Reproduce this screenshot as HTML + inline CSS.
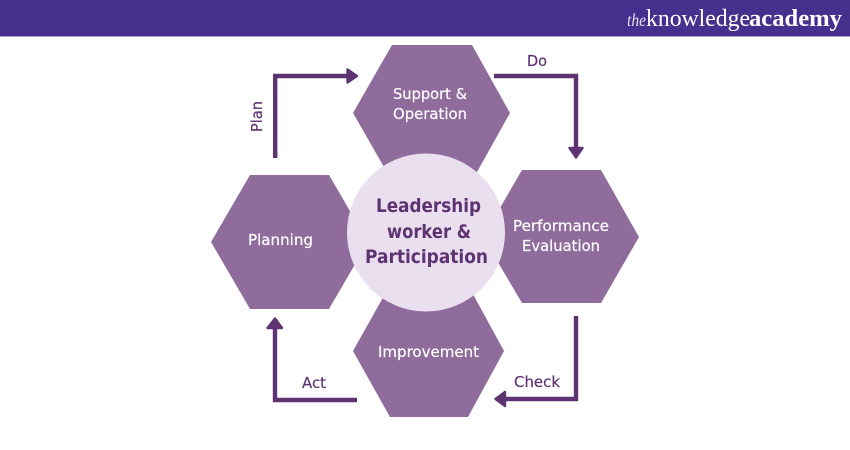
<!DOCTYPE html>
<html>
<head>
<meta charset="utf-8">
<style>
html,body{margin:0;padding:0;background:#fff;width:850px;height:450px;overflow:hidden}
svg{display:block}
.w{font-family:"DejaVu Sans","Liberation Sans",sans-serif;font-size:15px;fill:#fff;stroke:#fff;stroke-width:.2}
.l{font-family:"DejaVu Sans","Liberation Sans",sans-serif;font-size:15px;fill:#5d3371;stroke:#5d3371;stroke-width:.2}
.c{font-family:"DejaVu Sans","Liberation Sans",sans-serif;font-size:19px;font-weight:bold;fill:#5d3371}
.s{font-family:"Liberation Serif",serif;fill:#fff}
</style>
</head>
<body>
<svg width="850" height="450" viewBox="0 0 850 450" xmlns="http://www.w3.org/2000/svg">
<rect width="850" height="450" fill="#fff"/>
<rect width="850" height="36" fill="#45308d"/>
<rect y="36" width="850" height="1" fill="#a99fcb"/>
<text class="s" x="627" y="26" font-size="18" font-style="italic" textLength="19" lengthAdjust="spacingAndGlyphs" opacity=".85">the</text>
<text class="s" x="646" y="26" font-size="24" textLength="104" lengthAdjust="spacingAndGlyphs">knowledge</text>
<text class="s" x="749" y="26" font-size="24" font-weight="bold" textLength="93" lengthAdjust="spacingAndGlyphs">academy</text>

<polygon points="392,45 472,45 510,113 472,181 392,181 353,113" fill="#906c9c"/>
<polygon points="250,175 329,175 368,242 329,309 250,309 211,242" fill="#906c9c"/>
<polygon points="522,170 601,170 639,237 601,303 522,303 483,237" fill="#906c9c"/>
<polygon points="390,417 468,417 504,351 468,285 390,285 353,351" fill="#906c9c"/>
<path d="M527 215L540 184L548 206L568 172L580 215" fill="none" stroke="#8a78a8" stroke-width=".7" stroke-dasharray="1 2"/>
<circle cx="426" cy="232.5" r="79" fill="#eadfef"/>

<g fill="none" stroke="#5d3371" stroke-width="4.4">
<path d="M275.2 158V76H347"/>
<path d="M494 76H576V148"/>
<path d="M576 316V399H505"/>
<path d="M357 400H275V328"/>
</g>
<g fill="#5d3371" stroke="#5d3371" stroke-width="2.4" stroke-linejoin="round">
<polygon points="347.5,69.5 357,76 347.5,82.5"/>
<polygon points="569.5,148 582.5,148 576,157.5"/>
<polygon points="505,392 505,406 495.5,399"/>
<polygon points="267.5,328 282,328 275,318.5"/>
</g>

<text class="w" x="393" y="99" textLength="74" lengthAdjust="spacingAndGlyphs">Support &amp;</text>
<text class="w" x="393" y="119" textLength="74" lengthAdjust="spacingAndGlyphs">Operation</text>
<text class="w" x="248" y="245" textLength="65" lengthAdjust="spacingAndGlyphs">Planning</text>
<text class="w" x="513" y="231" textLength="96" lengthAdjust="spacingAndGlyphs">Performance</text>
<text class="w" x="522" y="251" textLength="78" lengthAdjust="spacingAndGlyphs">Evaluation</text>
<text class="w" x="378" y="357" textLength="101" lengthAdjust="spacingAndGlyphs">Improvement</text>

<text class="c" x="376" y="212" textLength="105" lengthAdjust="spacingAndGlyphs">Leadership</text>
<text class="c" x="387" y="238" textLength="84" lengthAdjust="spacingAndGlyphs">worker &amp;</text>
<text class="c" x="365" y="263" textLength="123" lengthAdjust="spacingAndGlyphs">Participation</text>

<text class="l" x="527" y="66" textLength="20" lengthAdjust="spacingAndGlyphs">Do</text>
<text class="l" transform="translate(262 132) rotate(-90)" x="0" y="0" textLength="31" lengthAdjust="spacingAndGlyphs">Plan</text>
<text class="l" x="302" y="388" textLength="24" lengthAdjust="spacingAndGlyphs">Act</text>
<text class="l" x="514" y="387" textLength="46" lengthAdjust="spacingAndGlyphs">Check</text>
</svg>
</body>
</html>
